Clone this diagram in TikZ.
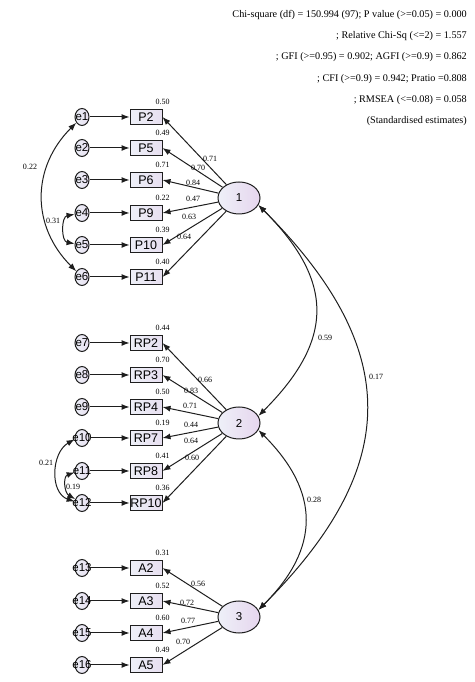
\documentclass[tikz,border=0pt]{standalone}
\usepackage{fontspec}
\setmainfont{Liberation Serif}
\newfontfamily\arialfont{Liberation Sans}
\usetikzlibrary{arrows.meta,positioning,shapes.geometric}
\definecolor{obsfill}{HTML}{E7DFF0}
\definecolor{latleft}{HTML}{EEF0F8}
\definecolor{latright}{HTML}{E6D6EE}
\definecolor{edge}{HTML}{1E1E1E}

\begin{document}
\begin{tikzpicture}[x=1pt,y=1pt,
    obs/.style={draw=edge,line width=1pt,left color=latleft,right color=obsfill,minimum width=32pt,minimum height=15pt,inner sep=0pt,font=\arialfont\fontsize{12.5}{12.5}\selectfont},
    err/.style={draw=edge,line width=1pt,left color=latleft,right color=obsfill,ellipse,minimum width=14pt,minimum height=17pt,inner sep=0pt},
    elab/.style={inner sep=0pt,font=\arialfont\fontsize{11.5}{11.5}\selectfont},
    lat/.style={draw=edge,line width=1pt,left color=latleft,right color=latright,ellipse,minimum width=42pt,minimum height=32pt,inner sep=0pt,font=\arialfont\fontsize{11.5}{11.5}\selectfont},
    num/.style={inner sep=0pt,font=\fontsize{8}{8}\selectfont},
    stat/.style={inner sep=0pt,anchor=base east,font=\fontsize{10.2}{12}\selectfont},
    reg/.style={-{Latex[length=8pt,width=6pt]},draw=edge,line width=1pt},
    cov/.style={{Latex[length=8pt,width=6pt]}-{Latex[length=8pt,width=6pt]},draw=edge,line width=1pt}]
  \useasboundingbox (0,0) rectangle (474,682);

  % fit indices
  \foreach \t/\y [count=\i] in {{Chi-square (df) = 150.994 (97); P value (>=0.05) = 0.000}/664,
      {; Relative Chi-Sq (<=2) = 1.557}/643,
      {; GFI (>=0.95) = 0.902; AGFI (>=0.9) = 0.862}/622,
      {; CFI (>=0.9) = 0.942; Pratio =0.808}/600,
      {; RMSEA (<=0.08) = 0.058}/579,
      {(Standardised estimates)}/558}
    \node[stat] (fit\i) at (467,\y) {\t};

  % latent factors
  \node[lat] (F1) at (239,484) {1};
  \node[lat] (F2) at (239,259) {2};
  \node[lat] (F3) at (239,65) {3};

  % indicators, errors, loadings and squared multiple correlations
  \foreach \v/\e/\y/\f/\ld/\lx/\ly/\rr in {
      P2/e1/565/F1/0.71/210/523/0.50, P5/e2/534/F1/0.70/198/514/0.49,
      P6/e3/502/F1/0.84/193/499/0.71, P9/e4/469/F1/0.47/193/483/0.22,
      P10/e5/437/F1/0.63/189/465/0.39, P11/e6/405/F1/0.64/184/445/0.40,
      RP2/e7/339/F2/0.66/205/302/0.44, RP3/e8/307/F2/0.83/191/291/0.70,
      RP4/e9/275/F2/0.71/190/276/0.50, RP7/e10/244/F2/0.44/191/257/0.19,
      RP8/e11/211/F2/0.64/191/241/0.41, RP10/e12/179/F2/0.60/192/224/0.36,
      A2/e13/114/F3/0.56/198/98/0.31, A3/e14/81/F3/0.72/187/79/0.52,
      A4/e15/49/F3/0.77/188/61/0.60, A5/e16/17/F3/0.70/183/40/0.49} {
    \node[obs] (\v) at (146,\y) {\v};
    \node[err] (\e) at (82,\y) {};
    \node[elab] (\e-t) at (\e) {\e};
    \draw[reg] (\e) -- (\v);
    \draw[reg] (\f) -- (\v.east);
    \node[num] (\v-ld) at (\lx,\ly) {\ld};
    \node[num,above=4pt of \v.north east] (\v-r2) {\rr};
  }

  % error covariances
  \draw[cov] (e1.-135) to[out=225,in=135,looseness=1.1] (e6.135);
  \draw[cov] (e4.190) to[out=190,in=170,looseness=1.2] (e5.170);
  \draw[cov] (e10.190) to[out=210,in=160,looseness=1.1] (e12.170);
  \draw[cov] (e11.190) to[out=200,in=150,looseness=1.2] (e12.150);
  \node[num] (c1) at (30,515) {0.22};
  \node[num] (c2) at (53,461) {0.31};
  \node[num] (c3) at (46,219) {0.21};
  \node[num] (c4) at (73,195) {0.19};

  % factor covariances
  \draw[cov] (F1.-20) to[out=-45,in=45,looseness=1.31] (F2.20);
  \draw[cov] (F1.-20) to[out=-45,in=45,looseness=1.29] (F3.20);
  \draw[cov] (F2.-20) to[out=-45,in=45,looseness=1.25] (F3.20);
  \node[num] (c12) at (325,344) {0.59};
  \node[num] (c13) at (376,305) {0.17};
  \node[num] (c23) at (314,182) {0.28};
\end{tikzpicture}
\end{document}
